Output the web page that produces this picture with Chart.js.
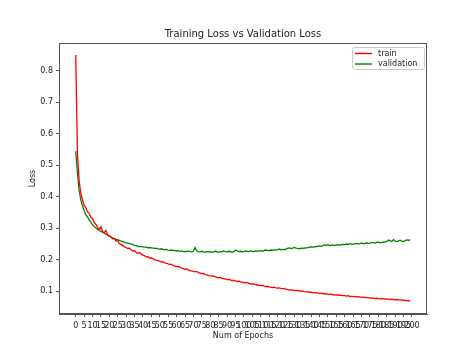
<!DOCTYPE html>
<html>
<head>
<meta charset="utf-8">
<script src="https://cdn.jsdelivr.net/npm/chart.js@4"></script>
<style>
  html, body { margin: 0; padding: 0; background: #fff; }
  #wrap { width: 474px; height: 353px; }
</style>
</head>
<body>
<div id="wrap"><canvas id="chart-loss"></canvas></div>
<script>
// ── Data ──────────────────────────────────────────────────────────────
const trainLoss = [
    0.850, 0.540, 0.452, 0.412, 0.392, 0.372, 0.366, 0.352, 0.348, 0.334,
    0.331, 0.318, 0.312, 0.303, 0.296, 0.305, 0.289, 0.287, 0.293, 0.279,
    0.276, 0.272, 0.266, 0.268, 0.259, 0.262, 0.251, 0.249, 0.245, 0.241,
    0.239, 0.236, 0.237, 0.231, 0.228, 0.229, 0.223, 0.221, 0.223, 0.218,
    0.215, 0.213, 0.209, 0.210, 0.205, 0.206, 0.203, 0.200, 0.199, 0.197,
    0.196, 0.193, 0.194, 0.190, 0.189, 0.187, 0.185, 0.186, 0.182, 0.180,
    0.178, 0.179, 0.176, 0.174, 0.172, 0.170, 0.171, 0.168, 0.166, 0.165,
    0.163, 0.162, 0.163, 0.159, 0.158, 0.156, 0.157, 0.153, 0.152, 0.150,
    0.149, 0.148, 0.149, 0.146, 0.144, 0.143, 0.144, 0.141, 0.140, 0.139,
    0.137, 0.138, 0.136, 0.134, 0.135, 0.133, 0.131, 0.132, 0.130, 0.129,
    0.128, 0.127, 0.128, 0.125, 0.124, 0.123, 0.124, 0.121, 0.120, 0.119,
    0.118, 0.119, 0.117, 0.115, 0.116, 0.114, 0.113, 0.112, 0.113, 0.111,
    0.110, 0.111, 0.109, 0.108, 0.109, 0.107, 0.106, 0.104, 0.105, 0.104,
    0.103, 0.102, 0.103, 0.101, 0.100, 0.101, 0.099, 0.098, 0.099, 0.097,
    0.097, 0.096, 0.095, 0.096, 0.094, 0.093, 0.094, 0.092, 0.093, 0.091,
    0.091, 0.090, 0.091, 0.089, 0.089, 0.088, 0.089, 0.087, 0.087, 0.086,
    0.086, 0.085, 0.086, 0.084, 0.084, 0.083, 0.084, 0.082, 0.083, 0.082,
    0.081, 0.082, 0.080, 0.080, 0.079, 0.080, 0.078, 0.079, 0.077, 0.078,
    0.077, 0.076, 0.077, 0.076, 0.075, 0.076, 0.075, 0.074, 0.075, 0.074,
    0.073, 0.074, 0.073, 0.072, 0.073, 0.071, 0.072, 0.070, 0.071, 0.068
];

const valLoss = [
    0.545, 0.478, 0.421, 0.391, 0.371, 0.356, 0.343, 0.336, 0.327, 0.319,
    0.311, 0.306, 0.301, 0.297, 0.293, 0.290, 0.288, 0.284, 0.281, 0.278,
    0.275, 0.272, 0.269, 0.267, 0.265, 0.263, 0.262, 0.259, 0.258, 0.256,
    0.254, 0.253, 0.251, 0.250, 0.248, 0.246, 0.245, 0.243, 0.242, 0.242,
    0.241, 0.240, 0.240, 0.238, 0.239, 0.238, 0.237, 0.236, 0.237, 0.235,
    0.234, 0.235, 0.233, 0.232, 0.233, 0.231, 0.230, 0.231, 0.229, 0.230,
    0.228, 0.229, 0.227, 0.228, 0.226, 0.227, 0.226, 0.228, 0.226, 0.225,
    0.227, 0.239, 0.228, 0.226, 0.225, 0.227, 0.225, 0.224, 0.226, 0.225,
    0.226, 0.224, 0.225, 0.227, 0.225, 0.224, 0.226, 0.225, 0.228, 0.226,
    0.225, 0.227, 0.226, 0.224, 0.226, 0.231, 0.228, 0.226, 0.227, 0.225,
    0.226, 0.228, 0.227, 0.226, 0.228, 0.227, 0.226, 0.229, 0.227, 0.228,
    0.229, 0.227, 0.229, 0.231, 0.230, 0.229, 0.231, 0.230, 0.232, 0.231,
    0.232, 0.234, 0.232, 0.233, 0.232, 0.234, 0.236, 0.238, 0.236, 0.237,
    0.239, 0.237, 0.236, 0.235, 0.237, 0.236, 0.238, 0.237, 0.239, 0.240,
    0.241, 0.240, 0.242, 0.241, 0.243, 0.244, 0.243, 0.245, 0.247, 0.246,
    0.248, 0.245, 0.246, 0.247, 0.245, 0.247, 0.248, 0.246, 0.248, 0.249,
    0.248, 0.250, 0.249, 0.251, 0.250, 0.249, 0.251, 0.252, 0.250, 0.251,
    0.253, 0.252, 0.251, 0.254, 0.252, 0.253, 0.255, 0.254, 0.253, 0.255,
    0.256, 0.254, 0.255, 0.257, 0.256, 0.258, 0.263, 0.260, 0.258, 0.264,
    0.259, 0.258, 0.260, 0.262, 0.259, 0.258, 0.261, 0.263, 0.262, 0.263
];

const xTicks = [
    0, 5, 10, 15, 20, 25, 30, 35, 40, 45, 50, 55, 60, 65, 70, 75, 80, 85, 90, 95,
    100, 105, 110, 115, 120, 125, 130, 135, 140, 145, 150, 155, 160, 165, 170, 175,
    180, 185, 190, 195, 200
];
const yTicks = [0.1, 0.2, 0.3, 0.4, 0.5, 0.6, 0.7, 0.8];

// ── Styling helpers ───────────────────────────────────────────────────
const FONT = 'DejaVu Sans';
const INK = '#222';

// matplotlib-like frame on all four sides
const framePlugin = {
    id: 'frame',
    afterDatasetsDraw(chart) {
        const { ctx, chartArea: a } = chart;
        ctx.save();
        ctx.strokeStyle = '#555';
        ctx.lineWidth = 1;
        ctx.strokeRect(Math.round(a.left) + 0.5, Math.round(a.top) + 0.5,
            Math.round(a.right - a.left) - 1, Math.round(a.bottom - a.top) - 1);
        ctx.restore();
    }
};

// legend box in the upper right of the plot
const legendPlugin = {
    id: 'mplLegend',
    afterDraw(chart) {
        const { ctx, chartArea: a } = chart;
        const w = 72, h = 22;
        const x = a.right - 3 - w, y = a.top + 4;
        ctx.save();
        ctx.fillStyle = 'rgba(255,255,255,0.8)';
        ctx.strokeStyle = '#ccc';
        ctx.lineWidth = 1;
        ctx.beginPath();
        ctx.roundRect(x + 0.5, y + 0.5, w, h, 2);
        ctx.fill();
        ctx.stroke();
        ctx.font = `8px "${FONT}"`;
        ctx.textBaseline = 'middle';
        ctx.textAlign = 'left';
        chart.data.datasets.forEach((ds, i) => {
            const cy = y + 6.5 + i * 10.5;
            ctx.strokeStyle = ds.borderColor;
            ctx.lineWidth = 1.4;
            ctx.beginPath();
            ctx.moveTo(x + 3, cy);
            ctx.lineTo(x + 20, cy);
            ctx.stroke();
            ctx.fillStyle = INK;
            ctx.fillText(ds.label, x + 26, cy);
        });
        ctx.restore();
    }
};

function renderLossChart() {
    const ctx = document.getElementById('chart-loss');

    new Chart(ctx, {
        type: 'line',
        data: {
            datasets: [
                {
                    label: 'train',
                    data: trainLoss.map((v, i) => ({ x: i, y: v })),
                    borderColor: '#ff0000',
                    borderWidth: 1.3,
                    pointRadius: 0,
                    tension: 0,
                    fill: false,
                },
                {
                    label: 'validation',
                    data: valLoss.map((v, i) => ({ x: i, y: v })),
                    borderColor: '#008000',
                    borderWidth: 1.3,
                    pointRadius: 0,
                    tension: 0,
                    fill: false,
                }
            ]
        },
        options: {
            responsive: true,
            maintainAspectRatio: false,
            animation: false,
            devicePixelRatio: 1,
            layout: { padding: { left: 0, right: 47, top: 0, bottom: 0 } },
            plugins: {
                legend: { display: false },
                tooltip: { enabled: false },
                title: {
                    display: true,
                    fullSize: false,
                    text: 'Training Loss vs Validation Loss',
                    color: INK,
                    font: { family: FONT, size: 10, weight: 'normal' },
                    padding: { top: 28, bottom: 3 }
                }
            },
            scales: {
                x: {
                    type: 'linear',
                    min: -9.95,
                    max: 208.95,
                    afterBuildTicks: s => { s.ticks = xTicks.map(v => ({ value: v })); },
                    afterFit: s => { s.height = 39; },
                    grid: { drawOnChartArea: false, tickLength: 3, color: '#555' },
                    border: { color: '#555' },
                    ticks: {
                        autoSkip: false, maxRotation: 0, minRotation: 0, padding: 4,
                        color: INK, font: { family: FONT, size: 8 },
                        callback: v => String(v)
                    },
                    title: {
                        display: true, text: 'Num of Epochs', color: INK,
                        font: { family: FONT, size: 8 }, padding: { top: 0, bottom: 12 }
                    }
                },
                y: {
                    min: 0.028,
                    max: 0.888,
                    afterBuildTicks: s => { s.ticks = yTicks.map(v => ({ value: v })); },
                    afterFit: s => { s.width = 59; },
                    grid: { drawOnChartArea: false, tickLength: 3, color: '#555' },
                    border: { color: '#555' },
                    ticks: {
                        padding: 3, color: INK, font: { family: FONT, size: 8 },
                        callback: v => v.toFixed(1)
                    },
                    title: {
                        display: true, text: 'Loss', color: INK,
                        font: { family: FONT, size: 8 }, padding: { top: 28, bottom: 0 }
                    }
                }
            }
        },
        plugins: [framePlugin, legendPlugin]
    });
}

renderLossChart();
</script>
</body>
</html>
